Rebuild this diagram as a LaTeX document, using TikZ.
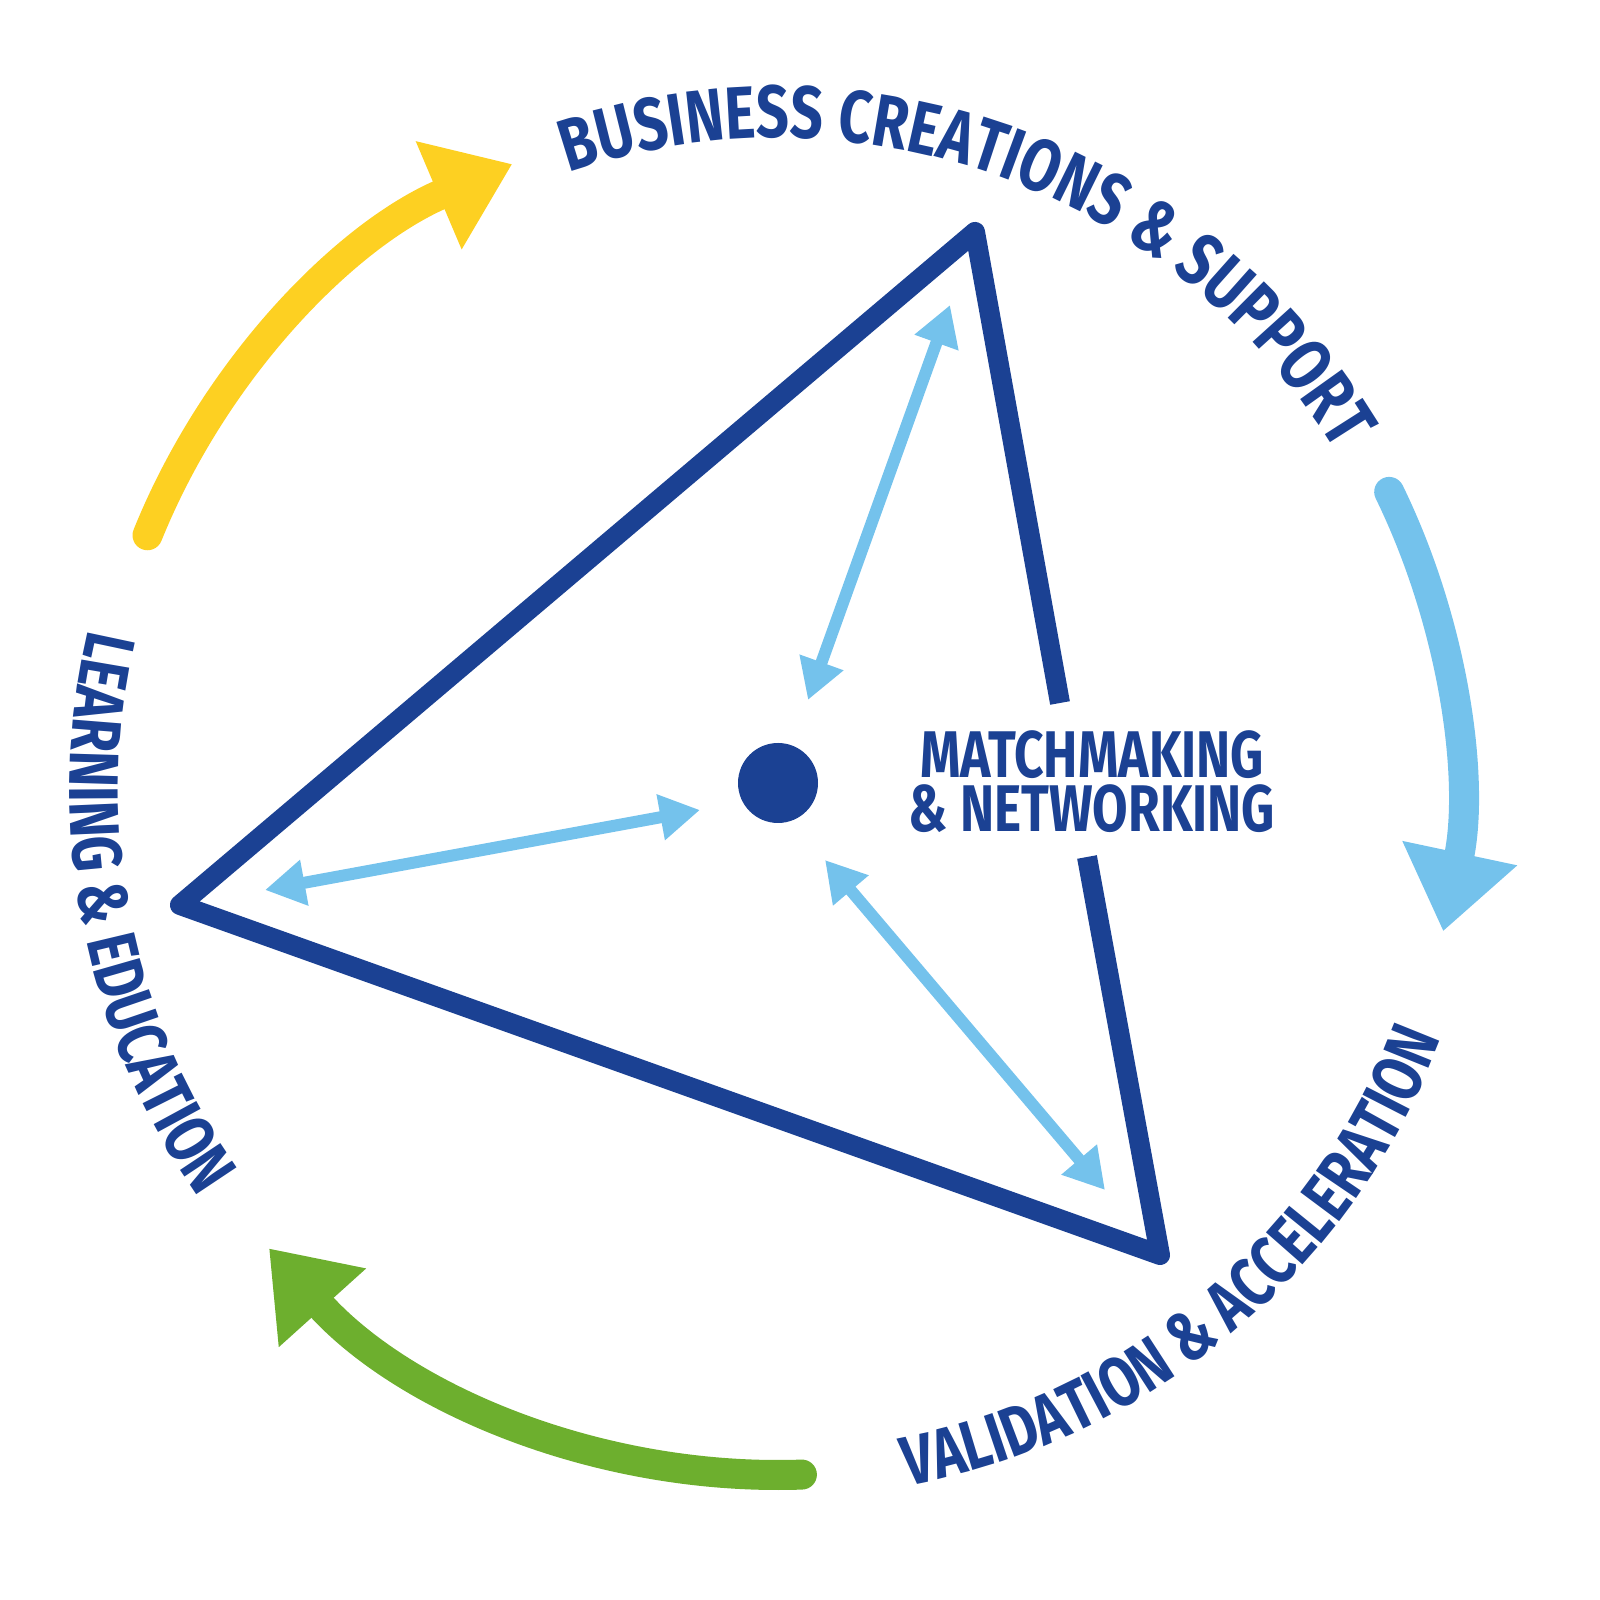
\documentclass[tikz,border=0pt]{standalone}
\usepackage{fontspec}
\setmainfont{Fira Sans}[FakeStretch=0.78]
\usetikzlibrary{arrows.meta,decorations.text}
\definecolor{dblue}{HTML}{1B4193}
\definecolor{lblue}{HTML}{74C2EC}
\definecolor{cyel}{HTML}{FDD022}
\definecolor{cgreen}{HTML}{6DAF2E}
\tikzset{
  bigarrow/.style={line width=15pt,line cap=round,-{Triangle[width=56pt,length=40pt]}},
  smallarrow/.style={draw=lblue,line width=6pt,{Triangle[width=22pt,length=20pt]}-{Triangle[width=22pt,length=20pt]}},
  ringtext/.style 2 args={decorate,decoration={text along path,text align=center,text color=dblue,
    text={|\bfseries\fontsize{#1}{#1}\selectfont|#2}}}
}
\begin{document}
\begin{tikzpicture}[x=0.5pt,y=0.5pt]
\useasboundingbox (0,0) rectangle (1600,1600);
\coordinate (C) at (778,810);
% big cycle arrows
\draw[bigarrow,draw=cyel] ([shift={(158:680)}]C) arc[start angle=158,end angle=113,radius=680];
\draw[bigarrow,draw=lblue] ([shift={(26:680)}]C) arc[start angle=26,end angle=-12,radius=680];
\draw[bigarrow,draw=cgreen] ([shift={(-88:685)}]C) arc[start angle=-88,end angle=-138,radius=685];
% ring texts
\path[ringtext={37}{BUSINESS CREATIONS {\&} SUPPORT}] ([shift={(113:652)}]C) arc[start angle=113,end angle=27,radius=652];
\path[ringtext={35}{LEARNING {\&} EDUCATION}] ([shift={(160:708)}]C) arc[start angle=160,end angle=222,radius=708];
\path[ringtext={35}{VALIDATION {\&} ACCELERATION}] ([shift={(-87:708)}]C) arc[start angle=-87,end angle=-13,radius=708];
% triangle
\coordinate (T1) at (975,1368);
\coordinate (T2) at (180,695);
\coordinate (T3) at (1160,345);
\coordinate (G1) at (1060,897);
\coordinate (G2) at (1087,743);
\draw[dblue,line width=10pt,line join=round] (G1) -- (T1) -- (T2) -- (T3) -- (G2);
% centre dot
\node[circle,fill=dblue,minimum size=40pt,inner sep=0] (dot) at (778,817) {};
% small arrows
\coordinate (a1) at (950,1295); \coordinate (b1) at (808,900);
\coordinate (a2) at (265,710); \coordinate (b2) at (700,790);
\coordinate (a3) at (825,740); \coordinate (b3) at (1105,410);
\draw[smallarrow] (a1) -- (b1);
\draw[smallarrow] (a2) -- (b2);
\draw[smallarrow] (a3) -- (b3);
% label
\node[text=dblue,font=\bfseries\fontsize{33}{27}\selectfont,align=center] (mn) at (1092,818) {MATCHMAKING\\\& NETWORKING};
\end{tikzpicture}
\end{document}
